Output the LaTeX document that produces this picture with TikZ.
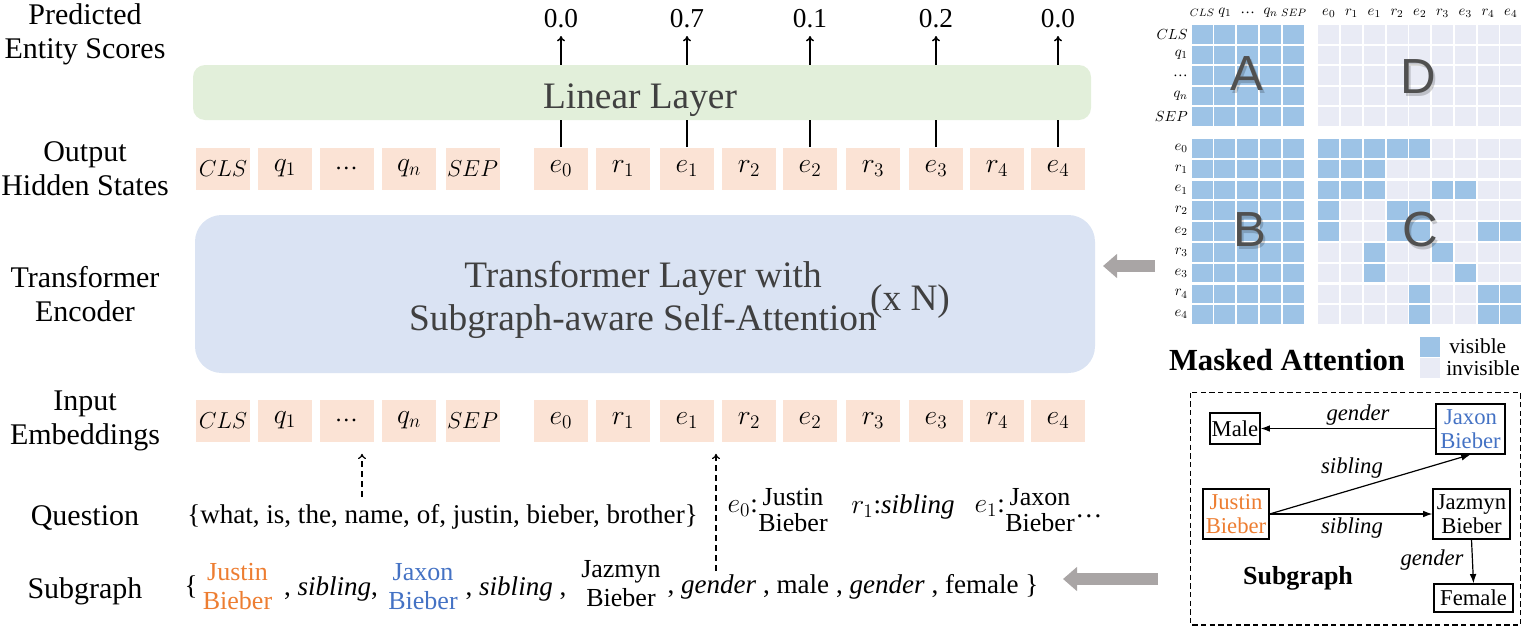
\documentclass[tikz,border=0pt]{standalone}
\usepackage{fontspec}
\setmainfont{Liberation Serif}
\newfontfamily\lettersans{Liberation Sans}
\usetikzlibrary{arrows.meta}
\definecolor{tokfill}{HTML}{FBE3D5}
\definecolor{linfill}{HTML}{E2EFDA}
\definecolor{trfill}{HTML}{DAE3F3}
\definecolor{vis}{HTML}{9DC3E6}
\definecolor{invis}{HTML}{E9EBF5}
\definecolor{darktext}{HTML}{404040}
\definecolor{lettergray}{HTML}{505050}
\definecolor{orangetxt}{HTML}{ED7D31}
\definecolor{bluetxt}{HTML}{4472C4}
\definecolor{arrowgray}{HTML}{A9A5A5}
\newcommand\tokbig{\fontsize{20.74}{22}\selectfont}
\newcommand\hdsmall{\fontsize{8.5}{10}\selectfont}
\tikzset{
 rowlbl/.style={align=center, font=\fontsize{22.5}{25.5}\selectfont, inner sep=0pt},
 tok/.style={fill=tokfill, minimum width=40.5pt, minimum height=31.5pt, inner sep=0pt, font=\fontsize{17.28}{20}\selectfont},
 score/.style={font=\fontsize{20.5}{24}\selectfont, inner sep=0pt},
 bigtxt/.style={text=darktext, font=\fontsize{28}{32.5}\selectfont, align=center, inner sep=0pt},
 mlab/.style={font=\fontsize{11}{13}\selectfont, inner sep=0pt},
 bigletter/.style={text=lettergray, font=\lettersans\fontsize{37}{40}\selectfont, inner sep=0pt},
 body/.style={font=\fontsize{20.3}{24}\selectfont, inner sep=0pt},
 stackA/.style={font=\fontsize{19.5}{19.5}\selectfont, align=center, inner sep=0pt},
 stackB/.style={font=\fontsize{19.5}{21.75}\selectfont, align=center, inner sep=0pt},
 sgnode/.style={draw, line width=0.9pt, inner sep=0pt, align=center, font=\fontsize{17}{18}\selectfont},
 sglbl/.style={font=\itshape\fontsize{17}{20}\selectfont, inner sep=1pt},
 sgarrow/.style={line width=0.9pt, -{Latex[length=7pt,width=5pt]}},
 scorearrow/.style={line width=1.1pt, -{To[length=4pt,width=6pt]}, shorten >=6pt},
 stemline/.style={line width=1.1pt},
 dasharrow/.style={line width=0.9pt, dash pattern=on 4.5pt off 3pt, -{To[length=4pt,width=6pt]}},
 grayarrow/.style={draw=arrowgray, line width=9pt, -{Triangle[length=10.5pt,width=17.5pt]}},
}
\begin{document}
\begin{tikzpicture}[x=0.75pt,y=-0.75pt]
\useasboundingbox (0,0) rectangle (1525,629);

% ---------- left row labels ----------
\node[rowlbl] (lpred) at (85,34) {Predicted\\Entity Scores};
\node[rowlbl] (lout) at (85,169) {Output\\Hidden States};
\node[rowlbl] (ltr) at (85,294) {Transformer\\Encoder};
\node[rowlbl] (linp) at (85,421) {Input\\Embeddings};
\node[rowlbl] (lq) at (85,518) {Question};
\node[rowlbl] (lsg) at (85,591) {Subgraph};

% ---------- layers ----------
\node[fill=linfill, rounded corners=9pt, minimum width=673.5pt, minimum height=41.25pt, inner sep=0pt] (lin) at (642,92.5) {};
\node[bigtxt] (lintxt) at (640,100) {Linear Layer};
\node[fill=trfill, rounded corners=20pt, minimum width=675pt, minimum height=118.5pt, inner sep=0pt] (tr) at (645,294) {};
\node[bigtxt] (trtxt) at (643,300) {Transformer Layer with\\Subgraph-aware Self-Attention\rlap{\hspace{-5pt}\smash{\raisebox{0.53em}{(x N)}}}};

% ---------- token rows ----------
\foreach \n/\x/\t in {cls/223/$CLS$, q1/285/{\tokbig$q_1$}, dots/346.5/\dots, qn/409/{\tokbig$q_n$}, sep/472.5/$SEP$, e0/561/{\tokbig$e_0$}, r1/623/{\tokbig$r_1$}, e1/687/{\tokbig$e_1$}, r2/749/{\tokbig$r_2$}, e2/810/{\tokbig$e_2$}, r3/873/{\tokbig$r_3$}, e3/936/{\tokbig$e_3$}, r4/997/{\tokbig$r_4$}, e4/1058/{\tokbig$e_4$}} {
  \node[tok] (o\n) at (\x,168.5) {\t};
  \node[tok] (i\n) at (\x,420.5) {\t};
}

% ---------- scores ----------
\foreach \n/\s in {e0/0.0, e1/0.7, e2/0.1, e3/0.2, e4/0.0} {
  \node[score] (sc\n) at (o\n |- 0,18.5) {\s};
  \draw[stemline] (o\n.north) -- (o\n.north |- lin.south);
  \draw[scorearrow] (o\n.north |- lin.north) -- (sc\n.south);
}

% ---------- question row ----------
\node[body] (qtext) at (442.5,517) {\{what, is, the, name, of, justin, bieber, brother\}};
\node[stackA] (qjustin) at (793,510) {Justin\\Bieber};
\node[body, anchor=east] (qe0) at (qjustin.west |- 0,508) {{\tokbig$e_0$}:};
\node[body] (qr1) at (903,507) {{\tokbig$r_1$}:\textit{sibling}};
\node[stackA] (qjaxon) at (1040,510) {Jaxon\\Bieber};
\node[body, anchor=east] (qe1) at (qjaxon.west |- 0,508) {{\tokbig$e_1$}:};
\node[body] (qmore) at (1089,516) {\dots};

% ---------- subgraph row ----------
\node[body] (slb) at (191,587) {\{};
\node[stackB, text=orangetxt] (sjustin) at (237.5,587) {Justin\\Bieber};
\node[body] (sp1) at (331,589) {, \textit{sibling},};
\node[stackB, text=bluetxt] (sjaxon) at (423,587) {Jaxon\\Bieber};
\node[body] (sp2) at (516,589) {, \textit{sibling} ,};
\node[stackB] (sjazmyn) at (621,584) {Jazmyn\\Bieber};
\node[body] (sp3) at (853,587) {, \textit{gender} , male , \textit{gender} , female \}};

% ---------- dashed arrows ----------
\coordinate (qa) at (362,497);
\draw[dasharrow, shorten >=9pt] (qa) -- (qa |- idots.south);
\coordinate (sa) at (716,571);
\draw[dasharrow, shorten >=9pt] (sa) -- (sa |- ie1.south);

% ---------- attention matrix ----------
\foreach \r in {0,...,4} \foreach \c in {0,...,4}
  \fill[vis] ({1191.5+\c*22.9},{25+\r*20.6}) rectangle ++(21,18.5);
\foreach \r in {0,...,4} \foreach \c in {0,...,8}
  \fill[invis] ({1318.3+\c*22.75},{25+\r*20.6}) rectangle ++(21,18.5);
\foreach \r in {0,...,8} \foreach \c in {0,...,4}
  \fill[vis] ({1191.5+\c*22.9},{139+\r*20.8}) rectangle ++(21,18.5);
\foreach \r in {0,...,8} \foreach \c in {0,...,8}
  \fill[invis] ({1318.3+\c*22.75},{139+\r*20.8}) rectangle ++(21,18.5);
\foreach \r/\c in {0/0,0/1,0/2,0/3,0/4, 1/0,1/1,1/2, 2/0,2/1,2/2,2/5,2/6, 3/0,3/3,3/4, 4/0,4/3,4/4,4/7,4/8, 5/2,5/5, 6/2,6/6, 7/4,7/7,7/8, 8/4,8/7,8/8}
  \fill[vis] ({1318.3+\c*22.75},{139+\r*20.8}) rectangle ++(21,18.5);

\foreach \t [count=\i from 0] in {{\hdsmall$CLS$},$q_1$,\dots,$q_n$,{\hdsmall$SEP$}} {
  \node[mlab] (hq\i) at ({1202+\i*22.9},13) {\t};
}
\foreach \t [count=\i from 0] in {$CLS$,$q_1$,\dots,$q_n$,$SEP$} {
  \node[mlab, anchor=east] (rq\i) at (1188,{34.25+\i*20.6}) {\t};
}
\foreach \t [count=\i from 0] in {$e_0$,$r_1$,$e_1$,$r_2$,$e_2$,$r_3$,$e_3$,$r_4$,$e_4$} {
  \node[mlab] (he\i) at ({1328.8+\i*22.75},13) {\t};
  \node[mlab, anchor=east] (re\i) at (1188,{148.25+\i*20.8}) {\t};
}

\foreach \l/\x/\y in {A/1247/74, D/1418/77, B/1250/230, C/1420/230} {
  \node[bigletter, text=black, opacity=0.18] at (\x+2,\y+2.5) {\l};
  \node[bigletter] (big\l) at (\x,\y) {\l};
}

% legend
\fill[vis] (1420,337) rectangle (1440,357);
\fill[invis] (1420,358) rectangle (1440,378);
\node[font=\fontsize{16}{18}\selectfont, anchor=west, inner sep=0pt] (legv) at (1449,346) {visible};
\node[font=\fontsize{16}{18}\selectfont, anchor=west, inner sep=0pt] (legi) at (1446,368) {invisible};
\node[font=\bfseries\fontsize{23}{26}\selectfont, inner sep=0pt] (mattn) at (1287,360) {Masked Attention};

% ---------- subgraph panel ----------
\draw[line width=0.9pt, dash pattern=on 4pt off 2.5pt] (1190.7,392.7) rectangle (1520.7,625);
\node[sgnode, minimum width=37.5pt, minimum height=23.25pt] (gmale) at (1235,428.5) {Male};
\node[sgnode, minimum width=51.75pt, minimum height=37.5pt, text=bluetxt] (gjaxon) at (1470.5,429) {Jaxon\\Bieber};
\node[sgnode, minimum width=49.5pt, minimum height=37.5pt, text=orangetxt] (gjustin) at (1236,514) {Justin\\Bieber};
\node[sgnode, minimum width=57.75pt, minimum height=37.5pt] (gjazmyn) at (1471.5,514) {Jazmyn\\Bieber};
\node[sgnode, minimum width=59.25pt, minimum height=21pt] (gfemale) at (1473.5,598) {Female};
\draw[sgarrow] (gjaxon.west |- gmale.east) -- (gmale.east);
\draw[sgarrow] (gjustin.east) -- (gjaxon.south);
\draw[sgarrow] (gjustin.east) -- (gjazmyn.west);
\draw[sgarrow] (gjazmyn.south) -- (gfemale.north);
\node[sglbl] (lg1) at (1358,415) {gender};
\node[sglbl] (ls1) at (1352,468) {sibling};
\node[sglbl] (ls2) at (1352,528) {sibling};
\node[sglbl] (lg2) at (1432,560) {gender};
\node[font=\bfseries\fontsize{19.5}{22}\selectfont, inner sep=0pt] (sgtitle) at (1298,578) {Subgraph};

% ---------- gray block arrows ----------
\coordinate (ga1s) at (1155,266);
\coordinate (ga1e) at (1103,266);
\draw[grayarrow] (ga1s) -- (ga1e);
\coordinate (ga2s) at (1158,579);
\coordinate (ga2e) at (1063,579);
\draw[grayarrow] (ga2s) -- (ga2e);
\end{tikzpicture}
\end{document}
